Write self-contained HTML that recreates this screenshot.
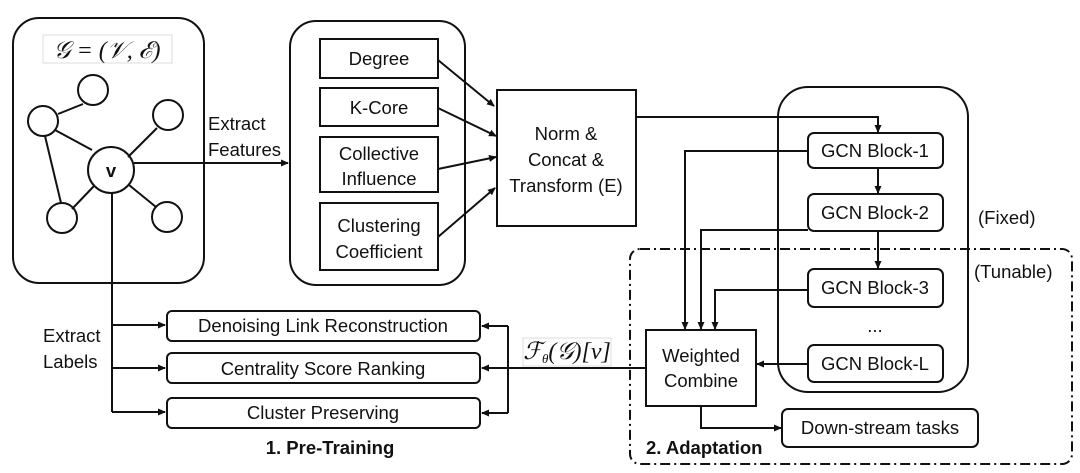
<!DOCTYPE html>
<html><head><style>
html,body{margin:0;padding:0;background:#fff;}
svg{display:block;}
text{font-family:"Liberation Sans",sans-serif;font-size:18.5px;fill:#111;}
.m{font-family:"Liberation Serif",serif;font-style:italic;font-size:24px;}
</style></head><body>
<svg width="1080" height="473" viewBox="0 0 1080 473" xmlns="http://www.w3.org/2000/svg">
<defs><marker id="a" markerWidth="8" markerHeight="8" refX="7" refY="4" orient="auto" markerUnits="userSpaceOnUse"><path d="M0,0.5 L8,4 L0,7.5 z" fill="#111"/></marker></defs>
<g fill="none" stroke="#111" stroke-width="2">
<rect x="13" y="18" width="191" height="265" rx="26"/>
<rect x="43" y="35" width="129" height="28" stroke="#ddd" stroke-width="1"/>
<line x1="58" y1="114" x2="83" y2="104"/>
<line x1="55" y1="130" x2="92" y2="150"/>
<line x1="45" y1="136" x2="61" y2="203"/>
<line x1="72" y1="209" x2="94" y2="186"/>
<line x1="128" y1="157" x2="157" y2="128"/>
<line x1="129" y1="185" x2="156" y2="207"/>
<circle cx="93" cy="90" r="15"/>
<circle cx="43" cy="121" r="15"/>
<circle cx="168" cy="115" r="15"/>
<circle cx="111" cy="170" r="23"/>
<circle cx="62" cy="218" r="15"/>
<circle cx="167" cy="217" r="15"/>
<line x1="134" y1="163" x2="288" y2="163" marker-end="url(#a)"/>
<rect x="290" y="21" width="175" height="264" rx="26"/>
<rect x="320" y="39" width="118" height="39"/>
<rect x="320" y="88" width="118" height="38"/>
<rect x="320" y="137" width="118" height="55"/>
<rect x="320" y="203" width="118" height="67"/>
<line x1="438" y1="60" x2="494" y2="106" marker-end="url(#a)"/>
<line x1="438" y1="108" x2="496" y2="136" marker-end="url(#a)"/>
<line x1="438" y1="169" x2="496" y2="157" marker-end="url(#a)"/>
<line x1="438" y1="237" x2="495" y2="188" marker-end="url(#a)"/>
<rect x="497" y="90" width="139" height="136"/>
<rect x="778" y="87" width="190" height="305" rx="30"/>
<rect x="808" y="133" width="135" height="35" rx="6"/>
<rect x="808" y="194" width="135" height="37" rx="6"/>
<rect x="808" y="269" width="135" height="38" rx="6"/>
<rect x="808" y="345" width="135" height="37" rx="6"/>
<polyline points="636,117 878,117 878,132" marker-end="url(#a)"/>
<line x1="878" y1="168" x2="878" y2="193" marker-end="url(#a)"/>
<line x1="878" y1="231" x2="878" y2="268" marker-end="url(#a)"/>
<rect x="630" y="249" width="442" height="215" rx="10" stroke-dasharray="10,4,2,4"/>
<rect x="646" y="330" width="110" height="76"/>
<polyline points="808,151 685,151 685,329" marker-end="url(#a)"/>
<polyline points="808,230 701,230 701,329" marker-end="url(#a)"/>
<polyline points="808,290 715,290 715,329" marker-end="url(#a)"/>
<line x1="808" y1="364" x2="757" y2="364" marker-end="url(#a)"/>
<line x1="646" y1="368" x2="482" y2="368" marker-end="url(#a)"/>
<line x1="508" y1="326" x2="508" y2="413"/>
<line x1="508" y1="326" x2="482" y2="326" marker-end="url(#a)"/>
<line x1="508" y1="413" x2="482" y2="413" marker-end="url(#a)"/>
<polyline points="701,406 701,428 781,428" marker-end="url(#a)"/>
<rect x="782" y="409" width="196" height="38" rx="6"/>
<line x1="112" y1="193" x2="112" y2="412"/>
<line x1="112" y1="325" x2="165" y2="325" marker-end="url(#a)"/>
<line x1="112" y1="368" x2="165" y2="368" marker-end="url(#a)"/>
<line x1="112" y1="412" x2="165" y2="412" marker-end="url(#a)"/>
<rect x="167" y="311" width="313" height="30" rx="5"/>
<rect x="167" y="353" width="313" height="30" rx="5"/>
<rect x="167" y="398" width="313" height="30" rx="5"/>
<rect x="523" y="338" width="88" height="28" stroke="#ddd" stroke-width="1"/>
</g>
<text class="m" x="107" y="58" text-anchor="middle">𝒢 = (𝒱, ℰ)</text>
<text x="111" y="177" text-anchor="middle" font-weight="bold">v</text>
<text x="208" y="130">Extract</text>
<text x="208" y="156">Features</text>
<text x="379" y="65" text-anchor="middle">Degree</text>
<text x="379" y="114" text-anchor="middle">K-Core</text>
<text x="379" y="160" text-anchor="middle">Collective</text>
<text x="379" y="185" text-anchor="middle">Influence</text>
<text x="379" y="232" text-anchor="middle">Clustering</text>
<text x="379" y="258" text-anchor="middle">Coefficient</text>
<text x="566" y="140" text-anchor="middle">Norm &amp;</text>
<text x="566" y="166" text-anchor="middle">Concat &amp;</text>
<text x="566" y="192" text-anchor="middle">Transform (E)</text>
<text x="875" y="157" text-anchor="middle">GCN Block-1</text>
<text x="875" y="219" text-anchor="middle">GCN Block-2</text>
<text x="875" y="294" text-anchor="middle">GCN Block-3</text>
<text x="875" y="332" text-anchor="middle">...</text>
<text x="875" y="370" text-anchor="middle">GCN Block-L</text>
<text x="978" y="224">(Fixed)</text>
<text x="974" y="278">(Tunable)</text>
<text x="701" y="362" text-anchor="middle">Weighted</text>
<text x="701" y="387" text-anchor="middle">Combine</text>
<text x="880" y="434" text-anchor="middle">Down-stream tasks</text>
<text x="646" y="454" font-weight="bold">2. Adaptation</text>
<text class="m" x="567" y="359" text-anchor="middle" font-size="20">ℱ<tspan font-size="13" dy="4">θ</tspan><tspan dy="-4">(𝒢)[v]</tspan></text>
<text x="43" y="342">Extract</text>
<text x="43" y="368">Labels</text>
<text x="323" y="332" text-anchor="middle">Denoising Link Reconstruction</text>
<text x="323" y="375" text-anchor="middle">Centrality Score Ranking</text>
<text x="323" y="419" text-anchor="middle">Cluster Preserving</text>
<text x="330" y="454" text-anchor="middle" font-weight="bold">1. Pre-Training</text>
</svg>
</body></html>
